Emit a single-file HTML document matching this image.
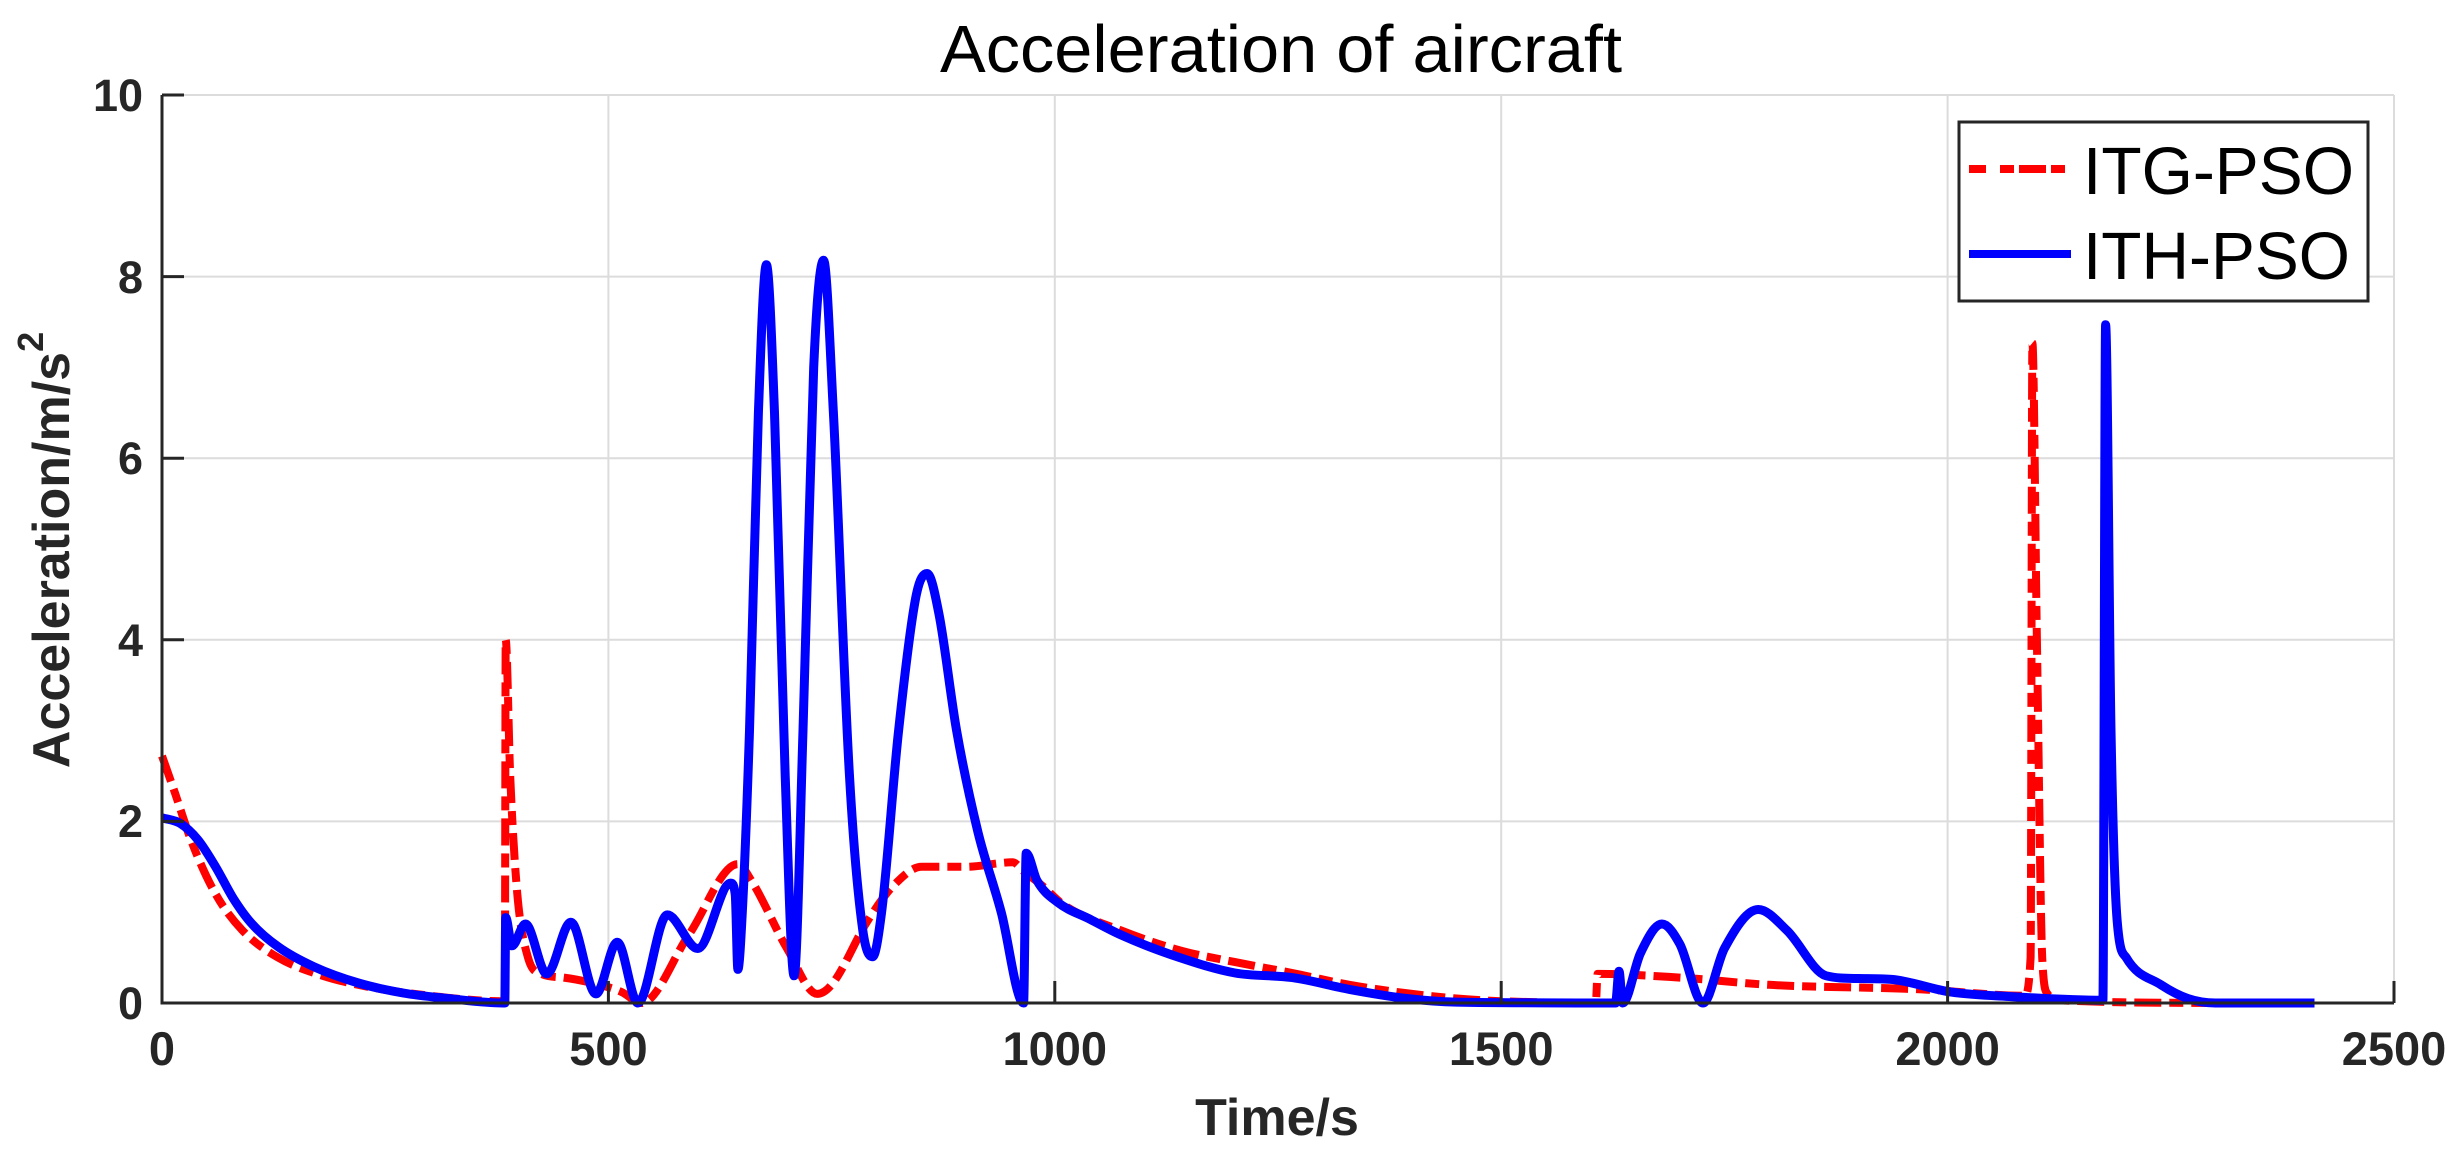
<!DOCTYPE html>
<html><head><meta charset="utf-8"><style>
html,body{margin:0;padding:0;background:#fff;}
svg{display:block;}
</style></head><body>
<svg id="s" width="2462" height="1149" viewBox="0 0 2462 1149" xmlns="http://www.w3.org/2000/svg">
<rect width="2462" height="1149" fill="#fff"/>
<g stroke="#dcdcdc" stroke-width="2">
<line x1="608.4" y1="95" x2="608.4" y2="1003"/>
<line x1="1054.8" y1="95" x2="1054.8" y2="1003"/>
<line x1="1501.2" y1="95" x2="1501.2" y2="1003"/>
<line x1="1947.6" y1="95" x2="1947.6" y2="1003"/>
<line x1="2394" y1="95" x2="2394" y2="1003"/>
<line x1="162" y1="95" x2="2394" y2="95"/>
<line x1="162" y1="276.6" x2="2394" y2="276.6"/>
<line x1="162" y1="458.2" x2="2394" y2="458.2"/>
<line x1="162" y1="639.8" x2="2394" y2="639.8"/>
<line x1="162" y1="821.4" x2="2394" y2="821.4"/>
</g>
<g id="series"></g>
<g stroke="#262626" stroke-width="3" fill="none">
<line x1="162" y1="95" x2="162" y2="1003"/>
<line x1="160.5" y1="1003" x2="2394" y2="1003"/>
<line x1="162" y1="95" x2="184" y2="95"/>
<line x1="162" y1="276.6" x2="184" y2="276.6"/>
<line x1="162" y1="458.2" x2="184" y2="458.2"/>
<line x1="162" y1="639.8" x2="184" y2="639.8"/>
<line x1="162" y1="821.4" x2="184" y2="821.4"/>
<line x1="608.4" y1="1003" x2="608.4" y2="981"/>
<line x1="1054.8" y1="1003" x2="1054.8" y2="981"/>
<line x1="1501.2" y1="1003" x2="1501.2" y2="981"/>
<line x1="1947.6" y1="1003" x2="1947.6" y2="981"/>
<line x1="2394" y1="1003" x2="2394" y2="981"/>
</g>
<g font-family="Liberation Sans, Arial, sans-serif" font-weight="bold" font-size="45" fill="#262626" text-anchor="end">
<text x="143" y="111">10</text>
<text x="143" y="293">8</text>
<text x="143" y="474">6</text>
<text x="143" y="656">4</text>
<text x="143" y="837">2</text>
<text x="143" y="1019">0</text>
</g>
<g font-family="Liberation Sans, Arial, sans-serif" font-weight="bold" font-size="47" fill="#262626" text-anchor="middle">
<text x="162" y="1065">0</text>
<text x="608.4" y="1065">500</text>
<text x="1054.8" y="1065">1000</text>
<text x="1501.2" y="1065">1500</text>
<text x="1947.6" y="1065">2000</text>
<text x="2394" y="1065">2500</text>
<text x="1277" y="1135" font-size="52">Time/s</text>
<text transform="translate(69,550) rotate(-90)" font-size="52">Acceleration/m/s<tspan font-size="36" dy="-26">2</tspan></text>
</g>
<text x="1281" y="72" font-family="Liberation Sans, Arial, sans-serif" font-size="67" fill="#000" text-anchor="middle" textLength="682" lengthAdjust="spacingAndGlyphs">Acceleration of aircraft</text>
<rect x="1959" y="122" width="409" height="179" fill="#fff" stroke="#262626" stroke-width="3"/>
<line x1="1969" y1="169" x2="2065" y2="169" stroke="#f00" stroke-width="8" stroke-dasharray="17 14 14 5 27 5 14 5"/>
<line x1="1969" y1="254" x2="2071" y2="254" stroke="#00f" stroke-width="8"/>
<g font-family="Liberation Sans, Arial, sans-serif" font-size="67" fill="#000">
<text x="2083" y="194" textLength="271" lengthAdjust="spacingAndGlyphs">ITG-PSO</text>
<text x="2083" y="279" textLength="267" lengthAdjust="spacingAndGlyphs">ITH-PSO</text>
</g>
</svg>
<script>
(function(){
var blue=[[0,2.04],[20,1.98],[40,1.8],[60,1.5],[80,1.15],[100,0.88],[130,0.62],[170,0.4],[220,0.22],[270,0.11],[320,0.05],[382,0],[384,0],[385,0.94],[392,0.63],[407,0.87],[431,0.32],[458,0.89],[486,0.1],[510,0.67],[533,0],[566,0.97],[600,0.6],[637,1.32],[642,1.2],[645,0.37],[650,1.0],[658,3.0],[668,6.5],[677,8.13],[686,6.5],[698,2.5],[708,0.3],[718,3.0],[730,7.0],[741,8.18],[752,6.5],[770,2.5],[785,0.8],[796,0.51],[806,1.0],[825,3.0],[845,4.5],[857,4.73],[870,4.3],[890,3.0],[914,1.88],[940,1.0],[965,0],[968,1.65],[980,1.35],[1003,1.11],[1040,0.92],[1074,0.75],[1140,0.5],[1202,0.33],[1266,0.28],[1330,0.15],[1394,0.05],[1450,0.01],[1628,0],[1632,0.35],[1636,0],[1656,0.55],[1680,0.87],[1700,0.65],[1726,0],[1750,0.6],[1788,1.03],[1820,0.8],[1864,0.3],[1900,0.27],[1937,0.26],[2004,0.12],[2071,0.07],[2174,0.03],[2177,7.47],[2183,3],[2190,0.9],[2200,0.5],[2239,0.2],[2269,0.05],[2300,0],[2411,0]];
var red=[[0,2.72],[15,2.3],[33,1.78],[60,1.2],[90,0.8],[130,0.5],[180,0.3],[230,0.18],[300,0.08],[380,0.02],[384,0.02],[385,4.0],[390,2.5],[398,1.2],[410,0.5],[425,0.32],[450,0.28],[490,0.2],[515,0.12],[537,0],[590,0.75],[645,1.53],[660,1.35],[700,0.6],[734,0.1],[750,0.2],[790,0.9],[820,1.3],[851,1.5],[900,1.5],[953,1.55],[965,1.45],[985,1.3],[1010,1.08],[1074,0.8],[1140,0.58],[1202,0.45],[1266,0.33],[1330,0.2],[1400,0.1],[1450,0.05],[1500,0.02],[1606,0],[1608,0.32],[1700,0.28],[1800,0.2],[1971,0.15],[2086,0.08],[2093,0.5],[2095,7.27],[2100,4],[2106,0.5],[2112,0.1],[2125,0.03],[2317,0]];
function mono(p){
 var n=p.length,d=[],m=[];
 for(var i=0;i<n-1;i++)d.push((p[i+1][1]-p[i][1])/(p[i+1][0]-p[i][0]));
 m[0]=d[0];m[n-1]=d[n-2];
 for(i=1;i<n-1;i++){m[i]=(d[i-1]*d[i]<=0)?0:(d[i-1]+d[i])/2;}
 for(i=0;i<n-1;i++){if(d[i]==0){m[i]=0;m[i+1]=0;continue;}var a=m[i]/d[i],b=m[i+1]/d[i],h=a*a+b*b;if(h>9){var t=3/Math.sqrt(h);m[i]=t*a*d[i];m[i+1]=t*b*d[i];}}
 var X=function(t){return 162+t*0.89280},Y=function(v){return 1003-v*90.8};
 var s='M'+X(p[0][0]).toFixed(1)+' '+Y(p[0][1]).toFixed(1);
 for(i=0;i<n-1;i++){var h=p[i+1][0]-p[i][0];
  s+=' C'+X(p[i][0]+h/3).toFixed(1)+' '+Y(p[i][1]+m[i]*h/3).toFixed(1)+' '+X(p[i+1][0]-h/3).toFixed(1)+' '+Y(p[i+1][1]-m[i+1]*h/3).toFixed(1)+' '+X(p[i+1][0]).toFixed(1)+' '+Y(p[i+1][1]).toFixed(1);}
 return s;}
var g=document.getElementById('series'),ns='http://www.w3.org/2000/svg';
var r=document.createElementNS(ns,'path');r.setAttribute('d',mono(red));r.setAttribute('fill','none');r.setAttribute('stroke','#f00');r.setAttribute('stroke-width','8');r.setAttribute('stroke-dasharray','27 8 14 8');r.setAttribute('stroke-linejoin','round');g.appendChild(r);
var b=document.createElementNS(ns,'path');b.setAttribute('d',mono(blue));b.setAttribute('fill','none');b.setAttribute('stroke','#00f');b.setAttribute('stroke-width','9');b.setAttribute('stroke-linejoin','round');g.appendChild(b);
})();
</script>
</body></html>
